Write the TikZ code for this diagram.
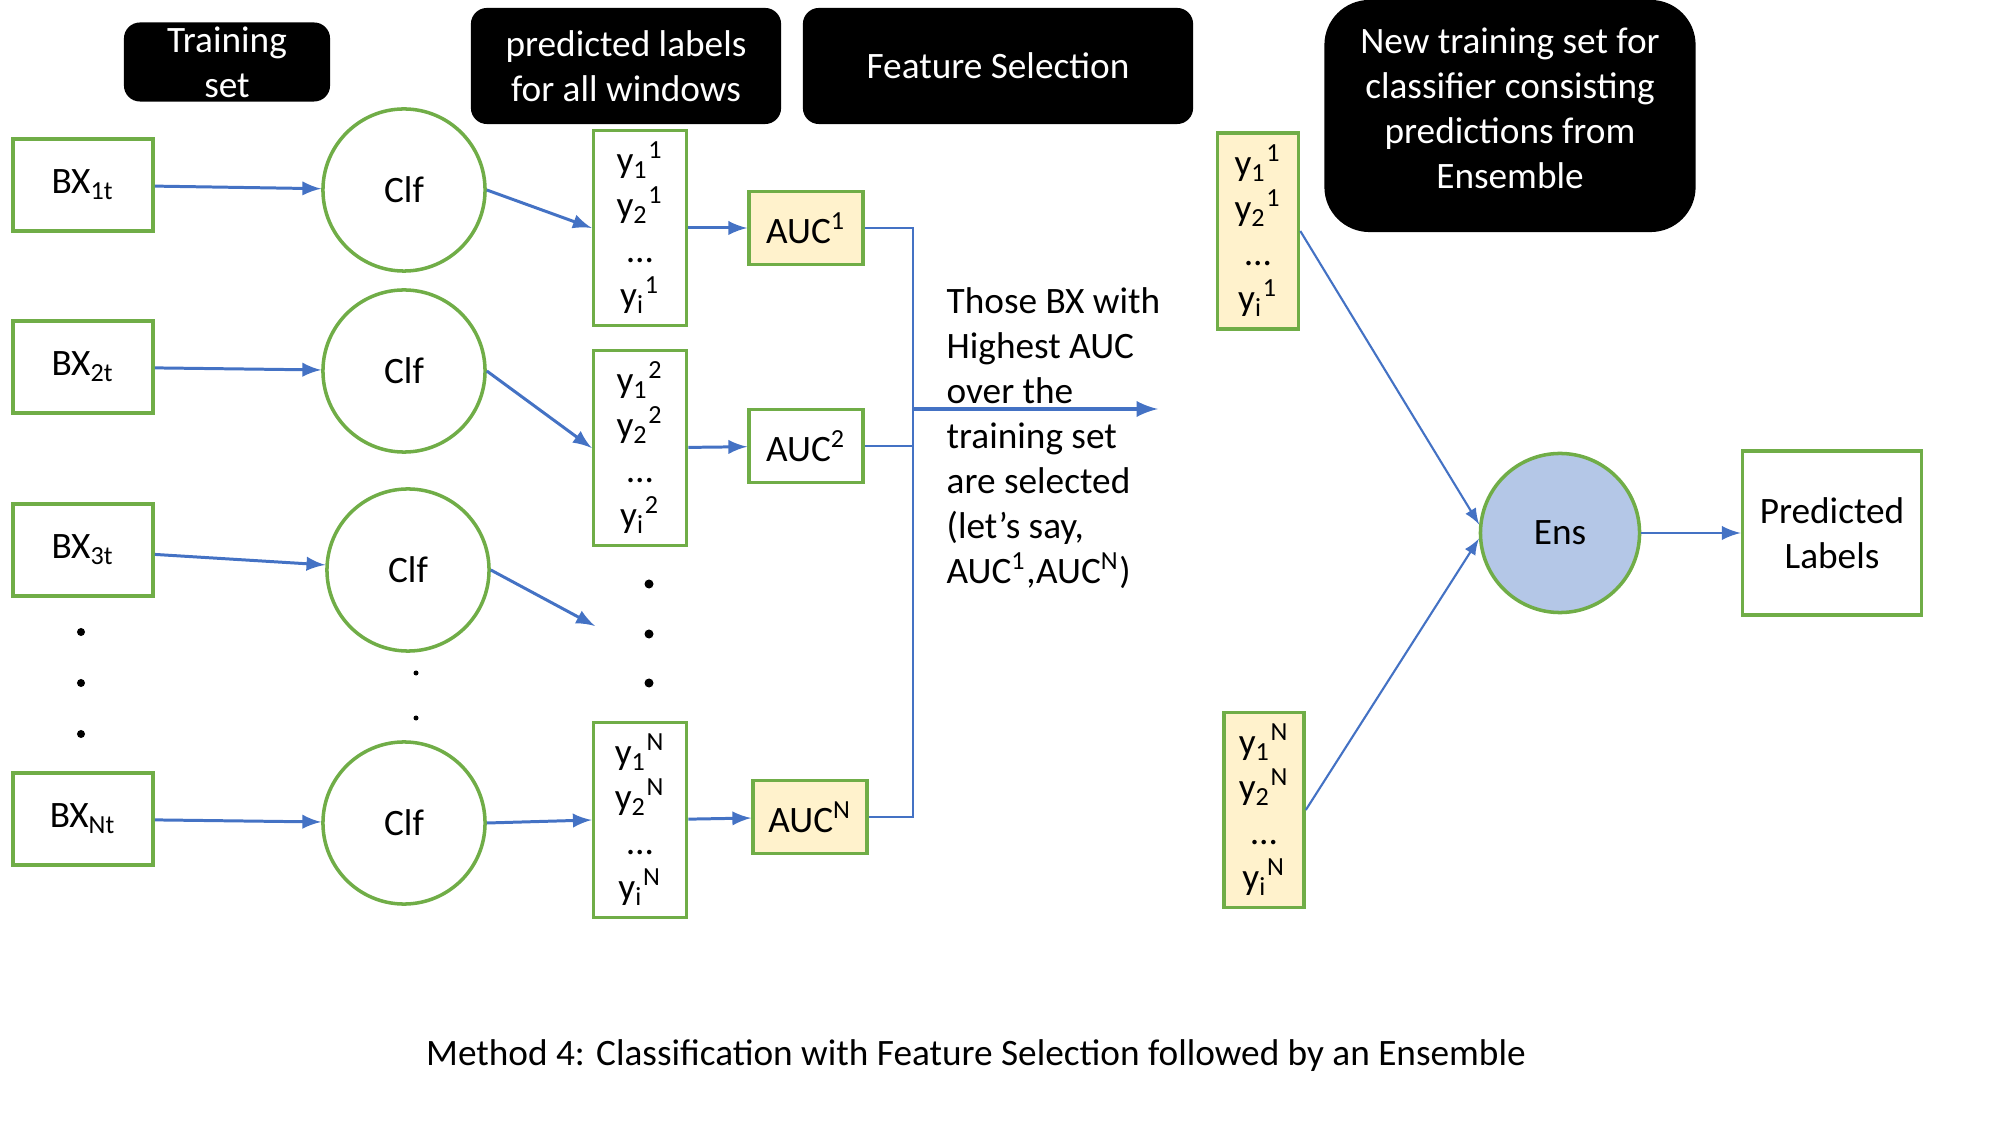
\documentclass[tikz,border=0pt]{standalone}
\usepackage{fontspec}
\setmainfont{Carlito}
\usetikzlibrary{arrows}
\definecolor{grn}{HTML}{70AD47}
\definecolor{blu}{HTML}{4472C4}
\definecolor{yel}{HTML}{FFF2CC}
\definecolor{ensb}{HTML}{B4C7E7}
\newcommand{\yy}[2]{y\textsubscript{#1}\textsuperscript{#2}}

\begin{document}
\begin{tikzpicture}[x=0.01cm,y=-0.01cm,
	font=\fontsize{10.6}{12.8}\selectfont,
	every node/.style={inner sep=0pt},
	hdr/.style={fill=black,text=white,rounded corners=1.6mm,align=center},
	gbox/.style={draw=grn,line width=1pt,align=center},
	ybox/.style={gbox,fill=yel},
	gcirc/.style={draw=grn,line width=1pt,circle,minimum size=1.62cm},
	arr/.style={draw,color=blu,line width=0.85pt,-latex},
	lnk/.style={draw,color=blu,line width=0.55pt}]
				\useasboundingbox (0,0) rectangle (2000,1125);

				\node[hdr,minimum width=2.06cm,minimum height=0.79cm] (hTrain) at (227,62) {Training\\set};
				\node[hdr,minimum width=3.10cm,minimum height=1.16cm] (hPred) at (626,66) {predicted labels\\for all windows};
				\node[hdr,minimum width=3.90cm,minimum height=1.16cm] (hFeat) at (998,66) {Feature Selection};
				\node[hdr,rounded corners=4.5mm,minimum width=3.71cm,minimum height=2.32cm,text depth=1.6mm] (hNew) at (1510,116) {New training set for\\classifier consisting\\predictions from\\Ensemble};

				\node[gbox,minimum width=1.40cm,minimum height=0.92cm] (BX1) at (83,185) {BX\textsubscript{1t}};
				\node[gbox,minimum width=1.40cm,minimum height=0.92cm] (BX2) at (83,367) {BX\textsubscript{2t}};
				\node[gbox,minimum width=1.40cm,minimum height=0.92cm] (BX3) at (83,550) {BX\textsubscript{3t}};
				\node[gbox,minimum width=1.40cm,minimum height=0.92cm] (BXN) at (83,819) {BX\textsubscript{Nt}};
				\foreach \y in {632,683,734} \fill (81,\y) circle (0.4mm);

				\node[gcirc] (Clf1) at (404,190) {Clf};
				\node[gcirc] (Clf2) at (404,371) {Clf};
				\node[gcirc] (Clf3) at (408,570) {Clf};
				\node[gcirc] (ClfN) at (404,823) {Clf};
				\foreach \y in {673,718} \fill (416,\y) circle (0.25mm);

				\node[gbox,minimum width=0.93cm,minimum height=1.95cm] (P1) at (640,228) {\yy{1}{1}\\\yy{2}{1}\\\dots\\\yy{i}{1}};
				\node[gbox,minimum width=0.93cm,minimum height=1.95cm] (P2) at (640,448) {\yy{1}{2}\\\yy{2}{2}\\\dots\\\yy{i}{2}};
				\node[gbox,minimum width=0.93cm,minimum height=1.95cm] (PN) at (640,820) {\yy{1}{N}\\\yy{2}{N}\\\dots\\\yy{i}{N}};
				\foreach \y in {584,634,683} \fill (649,\y) circle (0.45mm);
				\coordinate (C3) at (595,626);

				\node[ybox,minimum width=1.14cm,minimum height=0.73cm] (AUC1) at (806,228) {AUC\textsuperscript{1}};
				\node[gbox,minimum width=1.14cm,minimum height=0.73cm] (AUC2) at (806,446) {AUC\textsuperscript{2}};
				\node[ybox,minimum width=1.14cm,minimum height=0.73cm] (AUCN) at (810,817) {AUC\textsuperscript{N}};
				\coordinate (J) at (913,409);
				\coordinate (Sel) at (1158,409);

				\node[anchor=north west,align=left] (Note) at (946,287) {Those BX with\\Highest AUC\\over the\\training set\\are selected\\(let’s say,\\AUC\textsuperscript{1},AUC\textsuperscript{N})};

				\node[ybox,minimum width=0.81cm,minimum height=1.96cm] (S1) at (1258,231) {\yy{1}{1}\\\yy{2}{1}\\\dots\\\yy{i}{1}};
				\node[ybox,minimum width=0.80cm,minimum height=1.95cm] (SN) at (1264,810) {\yy{1}{N}\\\yy{2}{N}\\\dots\\\yy{i}{N}};
				\node[gcirc,fill=ensb,minimum size=1.59cm] (Ens) at (1560,533) {Ens};
				\node[gbox,minimum width=1.79cm,minimum height=1.64cm] (Pred) at (1832,533) {Predicted\\Labels};

				\node (Cap) at (976,1056) {Method 4: Classification with Feature Selection followed by an Ensemble};

				\path[every edge/.style=arr]
				(BX1) edge (Clf1)
				(BX2) edge (Clf2)
				(BX3) edge (Clf3)
				(BXN) edge (ClfN)
				(Clf1.east) edge (P1.west)
				(Clf2.east) edge (P2.west)
				(Clf3.east) edge (C3)
				(ClfN.east) edge (PN.west)
				(P1) edge (AUC1)
				(P2) edge (AUC2)
				(PN) edge (AUCN)
				(Ens) edge (Pred);

				\draw[lnk] (AUC1.east) -| (J) |- (AUCN.east);
				\draw[lnk] (AUC2.east) -- (AUC2.east -| J);
				\draw[arr,line width=1.1pt] (J) -- (Sel);

				\path[every edge/.style={arr,line width=0.6pt}]
				(S1.east) edge (Ens.174)
				(SN.east) edge (Ens.184);
			\end{tikzpicture}
\end{document}
